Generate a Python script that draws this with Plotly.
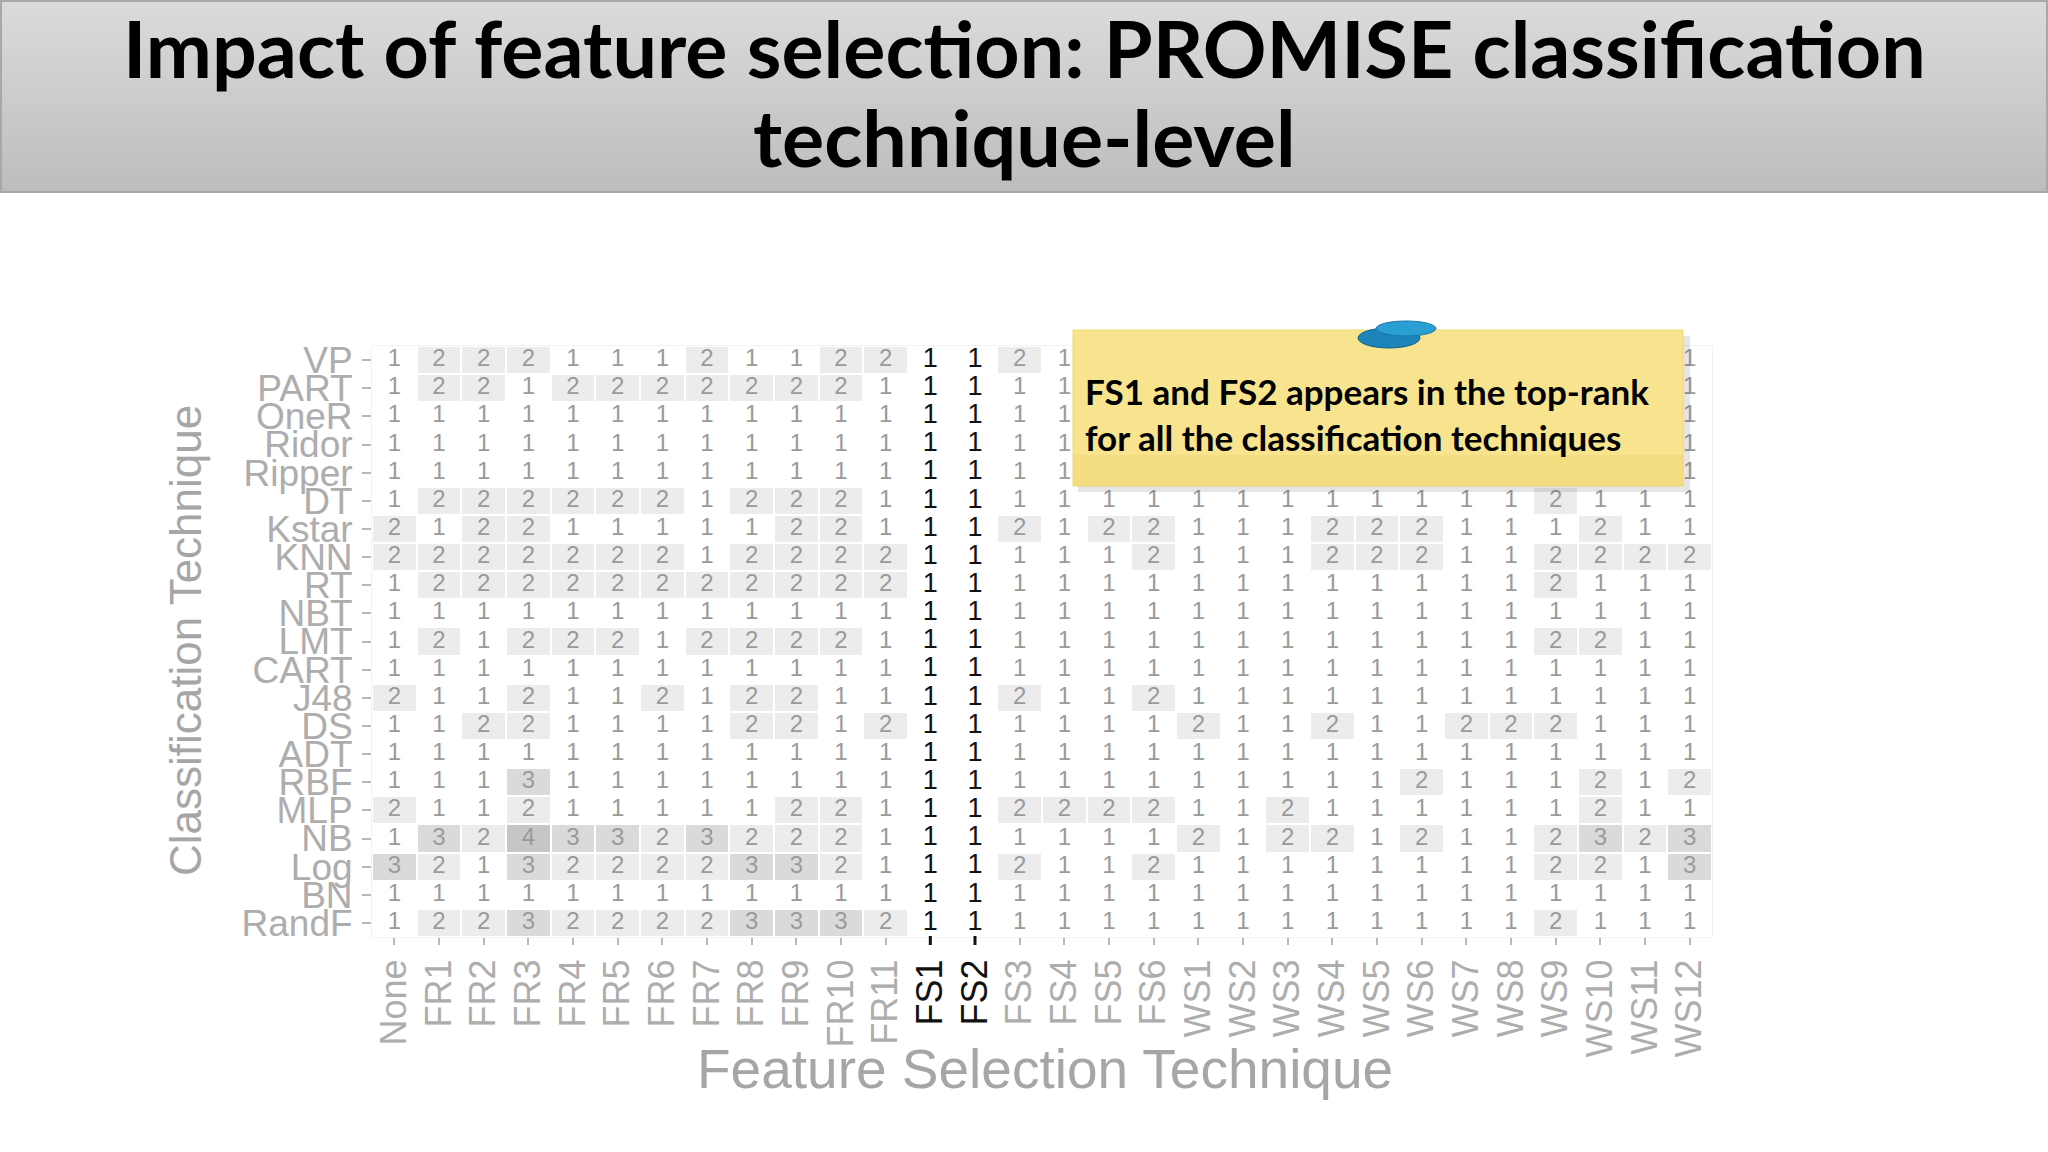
import plotly.graph_objects as go

# ---------------- data ----------------
fs_techniques = ["None", "FR1", "FR2", "FR3", "FR4", "FR5", "FR6", "FR7", "FR8", "FR9",
                 "FR10", "FR11", "FS1", "FS2", "FS3", "FS4", "FS5", "FS6",
                 "WS1", "WS2", "WS3", "WS4", "WS5", "WS6", "WS7", "WS8", "WS9",
                 "WS10", "WS11", "WS12"]
highlight_cols = ["FS1", "FS2"]

classifiers = ["VP", "PART", "OneR", "Ridor", "Ripper", "DT", "Kstar", "KNN", "RT", "NBT",
               "LMT", "CART", "J48", "DS", "ADT", "RBF", "MLP", "NB", "Log", "BN", "RandF"]

vp     = [1, 2, 2, 2, 1, 1, 1, 2, 1, 1, 2, 2, 1, 1, 2, 1, 1, 1, 1, 1, 1, 1, 1, 1, 1, 1, 1, 1, 1, 1]
part   = [1, 2, 2, 1, 2, 2, 2, 2, 2, 2, 2, 1, 1, 1, 1, 1, 1, 1, 1, 1, 1, 1, 1, 1, 1, 1, 1, 1, 1, 1]
oner   = [1, 1, 1, 1, 1, 1, 1, 1, 1, 1, 1, 1, 1, 1, 1, 1, 1, 1, 1, 1, 1, 1, 1, 1, 1, 1, 1, 1, 1, 1]
ridor  = [1, 1, 1, 1, 1, 1, 1, 1, 1, 1, 1, 1, 1, 1, 1, 1, 1, 1, 1, 1, 1, 1, 1, 1, 1, 1, 1, 1, 1, 1]
ripper = [1, 1, 1, 1, 1, 1, 1, 1, 1, 1, 1, 1, 1, 1, 1, 1, 1, 1, 1, 1, 1, 1, 1, 1, 1, 1, 1, 1, 1, 1]
dt     = [1, 2, 2, 2, 2, 2, 2, 1, 2, 2, 2, 1, 1, 1, 1, 1, 1, 1, 1, 1, 1, 1, 1, 1, 1, 1, 2, 1, 1, 1]
kstar  = [2, 1, 2, 2, 1, 1, 1, 1, 1, 2, 2, 1, 1, 1, 2, 1, 2, 2, 1, 1, 1, 2, 2, 2, 1, 1, 1, 2, 1, 1]
knn    = [2, 2, 2, 2, 2, 2, 2, 1, 2, 2, 2, 2, 1, 1, 1, 1, 1, 2, 1, 1, 1, 2, 2, 2, 1, 1, 2, 2, 2, 2]
rt     = [1, 2, 2, 2, 2, 2, 2, 2, 2, 2, 2, 2, 1, 1, 1, 1, 1, 1, 1, 1, 1, 1, 1, 1, 1, 1, 2, 1, 1, 1]
nbt    = [1, 1, 1, 1, 1, 1, 1, 1, 1, 1, 1, 1, 1, 1, 1, 1, 1, 1, 1, 1, 1, 1, 1, 1, 1, 1, 1, 1, 1, 1]
lmt    = [1, 2, 1, 2, 2, 2, 1, 2, 2, 2, 2, 1, 1, 1, 1, 1, 1, 1, 1, 1, 1, 1, 1, 1, 1, 1, 2, 2, 1, 1]
cart   = [1, 1, 1, 1, 1, 1, 1, 1, 1, 1, 1, 1, 1, 1, 1, 1, 1, 1, 1, 1, 1, 1, 1, 1, 1, 1, 1, 1, 1, 1]
j48    = [2, 1, 1, 2, 1, 1, 2, 1, 2, 2, 1, 1, 1, 1, 2, 1, 1, 2, 1, 1, 1, 1, 1, 1, 1, 1, 1, 1, 1, 1]
ds     = [1, 1, 2, 2, 1, 1, 1, 1, 2, 2, 1, 2, 1, 1, 1, 1, 1, 1, 2, 1, 1, 2, 1, 1, 2, 2, 2, 1, 1, 1]
adt    = [1, 1, 1, 1, 1, 1, 1, 1, 1, 1, 1, 1, 1, 1, 1, 1, 1, 1, 1, 1, 1, 1, 1, 1, 1, 1, 1, 1, 1, 1]
rbf    = [1, 1, 1, 3, 1, 1, 1, 1, 1, 1, 1, 1, 1, 1, 1, 1, 1, 1, 1, 1, 1, 1, 1, 2, 1, 1, 1, 2, 1, 2]
mlp    = [2, 1, 1, 2, 1, 1, 1, 1, 1, 2, 2, 1, 1, 1, 2, 2, 2, 2, 1, 1, 2, 1, 1, 1, 1, 1, 1, 2, 1, 1]
nb     = [1, 3, 2, 4, 3, 3, 2, 3, 2, 2, 2, 1, 1, 1, 1, 1, 1, 1, 2, 1, 2, 2, 1, 2, 1, 1, 2, 3, 2, 3]
log    = [3, 2, 1, 3, 2, 2, 2, 2, 3, 3, 2, 1, 1, 1, 2, 1, 1, 2, 1, 1, 1, 1, 1, 1, 1, 1, 2, 2, 1, 3]
bn     = [1, 1, 1, 1, 1, 1, 1, 1, 1, 1, 1, 1, 1, 1, 1, 1, 1, 1, 1, 1, 1, 1, 1, 1, 1, 1, 1, 1, 1, 1]
randf  = [1, 2, 2, 3, 2, 2, 2, 2, 3, 3, 3, 2, 1, 1, 1, 1, 1, 1, 1, 1, 1, 1, 1, 1, 1, 1, 2, 1, 1, 1]

ranks = [vp, part, oner, ridor, ripper, dt, kstar, knn, rt, nbt, lmt, cart, j48, ds, adt,
         rbf, mlp, nb, log, bn, randf]

title_lines = ["Impact of feature selection: PROMISE classification", "technique-level"]
note_lines = ["FS1 and FS2 appears in the top-rank", "for all the classification techniques"]
x_title = "Feature Selection Technique"
y_title = "Classification Technique"

# ---------------- geometry (pixels) ----------------
W, H = 2048, 1152
PL, PR, PT, PB = 372, 1712, 346, 937


def px2x(px):
    return (px - PL) / (PR - PL)


def py2y(py):
    return (PB - py) / (PB - PT)


GRAY_TXT = "#9a9a9a"
TICK_TXT = "#adadad"
SANS = "Liberation Sans, Arial, sans-serif"
BOLD = "Lato, Open Sans, sans-serif"

fig = go.Figure()

fig.add_trace(go.Heatmap(
    z=ranks, x=fs_techniques, y=classifiers,
    zmin=1, zmax=4,
    colorscale=[[0, "#ffffff"], [1 / 3, "#ececec"], [2 / 3, "#dadada"], [1, "#c6c6c6"]],
    showscale=False, xgap=2, ygap=2, hoverinfo="skip",
))

# gray rank numbers
gx, gy, gt = [], [], []
# highlighted (FS1/FS2) rank numbers
hx, hy, ht = [], [], []
for r, row in zip(classifiers, ranks):
    for c, v in zip(fs_techniques, row):
        if c in highlight_cols:
            hx.append(c); hy.append(r); ht.append(str(v))
        else:
            gx.append(c); gy.append(r); gt.append(str(v))

fig.add_trace(go.Scatter(
    x=gx, y=gy, text=gt, mode="text",
    textfont=dict(family=SANS, size=24, color=GRAY_TXT),
    hoverinfo="skip", showlegend=False,
))
fig.add_trace(go.Scatter(
    x=hx, y=hy, text=ht, mode="text",
    textfont=dict(family=SANS, size=27, color="#111111"),
    hoverinfo="skip", showlegend=False,
))

xticktext = [f'<span style="color:#111111">{c}</span>' if c in highlight_cols else c
             for c in fs_techniques]

fig.update_xaxes(
    type="category", categoryorder="array", categoryarray=fs_techniques,
    range=[-0.5, len(fs_techniques) - 0.5],
    tickmode="array", tickvals=fs_techniques, ticktext=xticktext,
    tickangle=-90, ticks="outside", ticklen=7, tickwidth=2, tickcolor="#b8b8b8",
    tickfont=dict(family=SANS, size=36, color=TICK_TXT),
    showgrid=False, zeroline=False, showline=True, linecolor="#f2f2f2", mirror=True,
    ticklabelstandoff=0,
)
fig.update_yaxes(
    type="category", categoryorder="array", categoryarray=classifiers,
    range=[len(classifiers) - 0.5, -0.5],
    tickmode="array", tickvals=classifiers, ticktext=classifiers,
    ticks="outside", ticklen=9, tickwidth=2, tickcolor="#b8b8b8",
    tickfont=dict(family=SANS, size=37, color=TICK_TXT),
    showgrid=False, zeroline=False, showline=True, linecolor="#f2f2f2", mirror=True,
    ticklabelstandoff=2,
)

shapes = []
# black tick marks under the highlighted columns
for c in highlight_cols:
    shapes.append(dict(type="line", xref="x", yref="paper", layer="above",
                       x0=c, x1=c, y0=py2y(936), y1=py2y(945),
                       line=dict(color="#111111", width=3)))

# title banner with vertical gradient
n_strips = 48
top_c = (0xdb, 0xdb, 0xdb)
bot_c = (0xbd, 0xbd, 0xbd)
for i in range(n_strips):
    t = i / (n_strips - 1)
    col = tuple(int(round(a + (b - a) * t)) for a, b in zip(top_c, bot_c))
    y0 = 192 * i / n_strips
    y1 = 192 * (i + 1) / n_strips + 0.5
    shapes.append(dict(type="rect", xref="paper", yref="paper", layer="below",
                       x0=px2x(0), x1=px2x(W), y0=py2y(y1), y1=py2y(y0),
                       fillcolor="rgb(%d,%d,%d)" % col, line=dict(width=0)))
shapes.append(dict(type="rect", xref="paper", yref="paper", layer="below",
                   x0=px2x(1), x1=px2x(W - 1), y0=py2y(192), y1=py2y(1),
                   fillcolor="rgba(0,0,0,0)", line=dict(color="#a8a8a8", width=2)))

# sticky note: shadow, paper, pin
shapes.append(dict(type="rect", xref="paper", yref="paper", layer="above",
                   x0=px2x(1078), x1=px2x(1690), y0=py2y(492), y1=py2y(336),
                   fillcolor="rgba(0,0,0,0.10)", line=dict(width=0)))
shapes.append(dict(type="rect", xref="paper", yref="paper", layer="above",
                   x0=px2x(1073), x1=px2x(1683), y0=py2y(486), y1=py2y(330),
                   fillcolor="#f8e48e", line=dict(color="#efd772", width=1)))
shapes.append(dict(type="rect", xref="paper", yref="paper", layer="above",
                   x0=px2x(1073), x1=px2x(1683), y0=py2y(486), y1=py2y(455),
                   fillcolor="rgba(230,200,90,0.25)", line=dict(width=0)))
shapes.append(dict(type="circle", xref="paper", yref="paper", layer="above",
                   x0=px2x(1358), x1=px2x(1420), y0=py2y(348), y1=py2y(328),
                   fillcolor="#1b84b8", line=dict(color="#12608a", width=1)))
shapes.append(dict(type="circle", xref="paper", yref="paper", layer="above",
                   x0=px2x(1376), x1=px2x(1436), y0=py2y(336), y1=py2y(321),
                   fillcolor="#2a9fd3", line=dict(color="#1678a6", width=1)))

annotations = [
    dict(text=title_lines[0], x=px2x(1024), y=py2y(47), xref="paper", yref="paper",
         xanchor="center", yanchor="middle", showarrow=False,
         font=dict(family=BOLD, size=79, color="#000000", weight="bold")),
    dict(text=title_lines[1], x=px2x(1024), y=py2y(136), xref="paper", yref="paper",
         xanchor="center", yanchor="middle", showarrow=False,
         font=dict(family=BOLD, size=79, color="#000000", weight="bold")),
    dict(text=note_lines[0], x=px2x(1083), y=py2y(391), xref="paper", yref="paper",
         xanchor="left", yanchor="middle", showarrow=False,
         font=dict(family=BOLD, size=35, color="#000000", weight="bold")),
    dict(text=note_lines[1], x=px2x(1083), y=py2y(437), xref="paper", yref="paper",
         xanchor="left", yanchor="middle", showarrow=False,
         font=dict(family=BOLD, size=35, color="#000000", weight="bold")),
    dict(text=x_title, x=px2x(1045), y=py2y(1069), xref="paper", yref="paper",
         xanchor="center", yanchor="middle", showarrow=False,
         font=dict(family=SANS, size=55, color="#a6a6a6")),
    dict(text=y_title, x=px2x(185), y=py2y(641), xref="paper", yref="paper",
         xanchor="center", yanchor="middle", showarrow=False, textangle=-90,
         font=dict(family=SANS, size=44, color="#a6a6a6")),
]

fig.update_layout(
    width=W, height=H, autosize=False,
    margin=dict(l=PL, r=W - PR, t=PT, b=H - PB, pad=0),
    paper_bgcolor="#ffffff", plot_bgcolor="#ffffff",
    showlegend=False, shapes=shapes, annotations=annotations,
)

fig.write_html("out.html", config={"displayModeBar": False},
               post_script="document.body.style.margin='0';")
